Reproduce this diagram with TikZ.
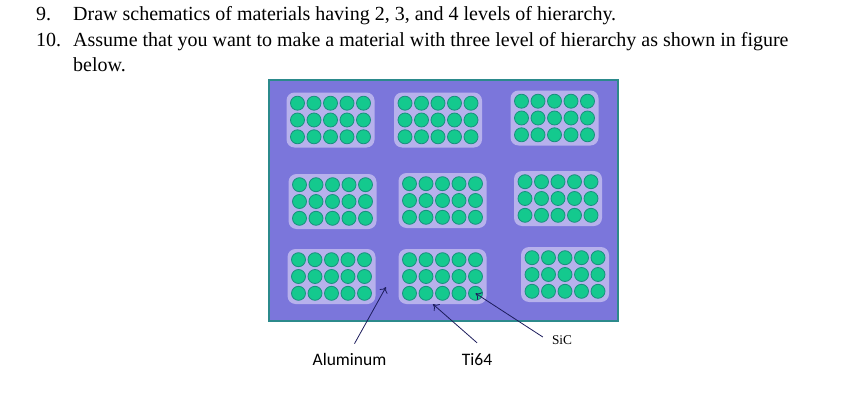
\documentclass[tikz,border=0pt]{standalone}
\usepackage{fontspec}
\setmainfont{Liberation Serif}
\newfontfamily\labelfont{Carlito}
\usepackage{tikz}
\usetikzlibrary{arrows.meta}

\definecolor{plateblue}{HTML}{7B76DB}
\definecolor{plateedge}{HTML}{2C8A8C}
\definecolor{grainfill}{HTML}{B7B1EC}
\definecolor{partfill}{HTML}{14C98E}
\definecolor{partedge}{HTML}{1A8F7E}
\definecolor{pointer}{HTML}{1C1C5C}

\tikzset{
  question/.style={anchor=base west, inner sep=0pt, font=\fontsize{20}{24}\selectfont},
  grainbox/.style={rounded corners=8pt, fill=grainfill, minimum width=88pt, minimum height=55pt, inner sep=0pt},
  particle/.style={circle, fill=partfill, draw=partedge, line width=0.8pt, minimum size=14pt, inner sep=0pt},
  pointer/.style={-{To[length=5.5pt,width=9pt]}, draw=pointer, line width=0.8pt}
}

\begin{document}
\begin{tikzpicture}[x=1pt,y=-1pt]
\useasboundingbox (0,0) rectangle (862,412);

% Questions
\node[question] (q9) at (36,21) {9.};
\node[question] (q9t) at (73,21) {Draw schematics of materials having 2, 3, and 4 levels of hierarchy.};
\node[question] (q10) at (36,47) {10.};
\node[question] (q10t) at (73,47) {Assume that you want to make a material with three level of hierarchy as shown in figure};
\node[question] (q10u) at (73,72) {below.};

% Matrix plate
\node[fill=plateblue, draw=plateedge, line width=2pt, minimum width=349pt, minimum height=241pt, inner sep=0pt] (plate) at (443.5,200.5) {};

% Grains with particles
\foreach \cx/\cy/\g in {330.5/120/11, 438/120/12, 554.5/118/13,
                        332.5/201.5/21, 442.5/200.5/22, 558/198.5/23,
                        331.5/276.5/31, 442.5/276.5/32, 565/274.5/33} {
  \node[grainbox] (g\g) at (\cx,\cy) {};
  \foreach \i in {1,...,5}
    \foreach \j in {1,...,3}
      \node[particle] (p\g-\j\i) at (\cx+\i*16.5-49.5, \cy+\j*16.8-33.6) {};
}

% Labels
\node[font=\labelfont\fontsize{17.5}{20}\selectfont, anchor=base, inner sep=1pt] (alu) at (349.5,365) {Aluminum};
\node[font=\labelfont\fontsize{17.5}{20}\selectfont, anchor=base, inner sep=1pt] (ti) at (477,365) {Ti64};
\node[font=\fontsize{13.3}{15}\selectfont, anchor=base, inner sep=1pt] (sic) at (562,344) {SiC};

% Pointers
\coordinate (alutip) at (386,287);
\draw[pointer] ([xshift=5pt, yshift=8pt]alu.north) -- (alutip);
\draw[pointer] ([yshift=9pt]ti.north) -- ([xshift=-9.5pt]g32.south);
\draw[pointer] ([xshift=-8pt, yshift=-3pt]sic.north west) -- (p32-35.center);
\end{tikzpicture}
\end{document}
